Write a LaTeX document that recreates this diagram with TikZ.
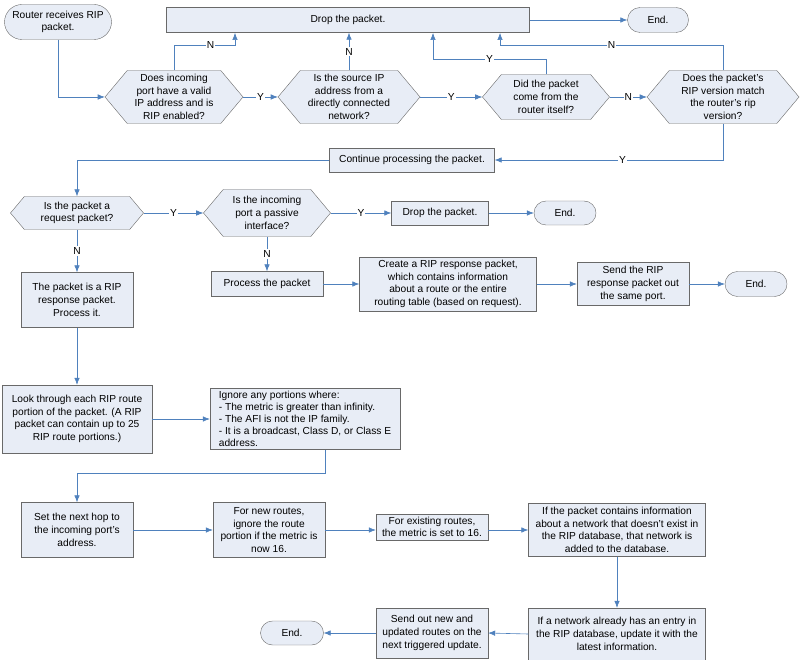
\documentclass[tikz,border=0pt]{standalone}
\usepackage{fontspec}
\setmainfont{Liberation Sans}
\usetikzlibrary{shapes.misc,shapes.symbols,arrows.meta}

\definecolor{boxfill}{RGB}{232,237,246}
\definecolor{boxline}{RGB}{105,105,105}
\definecolor{flow}{RGB}{79,129,189}

\tikzstyle{base}=[draw=boxline, fill=boxfill, align=center, inner sep=1pt, font=\fontsize{10.2}{12.7}\selectfont]
\tikzstyle{term}=[base, rounded rectangle]
\tikzstyle{proc}=[base, rectangle]
\tikzstyle{test}=[base, signal, signal to=west and east, signal pointer angle=100]
\tikzstyle{arrow}=[flow, line width=0.6pt, -{Latex[length=7pt, width=5.5pt]}]
\tikzstyle{yn}=[fill=white, text=black, inner sep=1pt, font=\fontsize{10.2}{11}\selectfont]

\begin{document}
\begin{tikzpicture}[x=1pt, y=-1pt]
    \useasboundingbox (0,0) rectangle (800,660);

    % top row
    \node[term, minimum width=109, minimum height=35] (start) at (58, 22) {Router receives RIP\\packet.};
    \node[proc, minimum width=363, minimum height=25] (drop1) at (348, 20) {Drop the packet.};
    \node[term, minimum width=63, minimum height=25] (end1) at (658, 20) {End.};
    \node[test, minimum width=138, minimum height=53] (d1) at (174, 97) {Does incoming\\port have a valid\\IP address and is\\RIP enabled?};
    \node[test, minimum width=142, minimum height=53] (d2) at (349, 97) {Is the source IP\\address from a\\directly connected\\network?};
    \node[test, minimum width=127, minimum height=45] (d3) at (546, 97) {Did the packet\\come from the\\router itself?};
    \node[test, minimum width=152, minimum height=53] (d4) at (723, 97) {Does the packet’s\\RIP version match\\the router’s rip\\version?};
    \node[proc, minimum width=165, minimum height=24] (cont) at (412, 160) {Continue processing the packet.};

    \coordinate (dropA) at (235, 33);
    \coordinate (dropB) at (433, 33);
    \coordinate (dropC) at (500, 33);

    \draw[arrow] (start.south) |- (d1.west);
    \draw[arrow] (d1.east) -- node[yn] (y1) {Y} (d2.west);
    \draw[arrow] (d2.east) -- node[yn] (y2) {Y} (d3.west);
    \draw[arrow] (d3.east) -- node[yn] (n3) {N} (d4.west);
    \draw[arrow] (d1.north) -- ++(0,-25) -| node[yn, pos=0.3] (n1) {N} (dropA);
    \draw[arrow] (d2.north) -- node[yn] (n2) {N} (drop1.south -| d2.north);
    \draw[arrow] (d3.north) -- ++(0,-15) -| node[yn, pos=0.25] (y3) {Y} (dropB);
    \draw[arrow] (d4.north) -- ++(0,-25) -| node[yn, pos=0.25] (n4) {N} (dropC);
    \draw[arrow] (drop1.east) -- (end1.west);
    \draw[arrow] (d4.south) |- node[yn, pos=0.72] (y4) {Y} (cont.east);

    % request branch
    \node[test, minimum width=133, minimum height=33] (d5) at (77, 213) {Is the packet a\\request packet?};
    \node[test, minimum width=127, minimum height=47] (d6) at (267, 213) {Is the incoming\\port a passive\\interface?};
    \node[proc, minimum width=97, minimum height=24] (drop2) at (440, 213) {Drop the packet.};
    \node[term, minimum width=64, minimum height=24] (end2) at (565, 213) {End.};
    \node[proc, minimum width=112, minimum height=55] (resp) at (77, 300) {The packet is a RIP\\response packet.\\Process it.};
    \node[proc, minimum width=112, minimum height=25] (proc1) at (267, 284) {Process the packet};
    \node[proc, minimum width=177, minimum height=54] (create) at (448, 284) {Create a RIP response packet,\\which contains information\\about a route or the entire\\routing table (based on request).};
    \node[proc, minimum width=112, minimum height=43] (send) at (633, 284) {Send the RIP\\response packet out\\the same port.};
    \node[term, minimum width=64, minimum height=25] (end3) at (756, 284) {End.};

    \draw[arrow] (cont.west) -| (d5.north);
    \draw[arrow] (d5.east) -- node[yn] (y5) {Y} (d6.west);
    \draw[arrow] (d6.east) -- node[yn] (y6) {Y} (drop2.west);
    \draw[arrow] (drop2.east) -- (end2.west);
    \draw[arrow] (d5.south) -- node[yn] (n5) {N} (resp.north);
    \draw[arrow] (d6.south) -- node[yn] (n6) {N} (proc1.north);
    \draw[arrow] (proc1.east) -- (create.west);
    \draw[arrow] (create.east) -- (send.west);
    \draw[arrow] (send.east) -- (end3.west);

    % response branch
    \node[proc, minimum width=150, minimum height=68] (look) at (77, 419) {Look through each RIP route\\portion of the packet. (A RIP\\packet can contain up to 25\\RIP route portions.)};
    \node[proc, minimum width=190, minimum height=61, align=left, inner sep=2pt, font=\fontsize{10.2}{12}\selectfont] (ignore) at (305, 419) {Ignore any portions where:\\- The metric is greater than infinity.\\- The AFI is not the IP family.\\- It is a broadcast, Class D, or Class E\\address.};
    \node[proc, minimum width=112, minimum height=55] (nexthop) at (77, 530) {Set the next hop to\\the incoming port’s\\address.};
    \node[proc, minimum width=112, minimum height=55] (newrt) at (269, 530) {For new routes,\\ignore the route\\portion if the metric is\\now 16.};
    \node[proc, minimum width=112, minimum height=26] (oldrt) at (432, 527) {For existing routes,\\the metric is set to 16.};
    \node[proc, minimum width=177, minimum height=53] (addnet) at (617, 530) {If the packet contains information\\about a network that doesn’t exist in\\the RIP database, that network is\\added to the database.};
    \node[proc, minimum width=177, minimum height=52] (update) at (617, 634) {If a network already has an entry in\\the RIP database, update it with the\\latest information.};
    \node[proc, minimum width=112, minimum height=50] (sendout) at (432, 633) {Send out new and\\updated routes on the\\next triggered update.};
    \node[term, minimum width=65, minimum height=24] (end4) at (292, 633) {End.};

    \draw[arrow] (resp.south) -- (look.north);
    \draw[arrow] (look.east) -- (ignore.west);
    \draw[arrow] ([xshift=20pt]ignore.south) -- ++(0,24) -| (nexthop.north);
    \draw[arrow] (nexthop.east) -- (newrt.west);
    \draw[arrow] (newrt.east) -- (oldrt.west |- newrt.east);
    \draw[arrow] (oldrt.east |- addnet.west) -- (addnet.west);
    \draw[arrow] (addnet.south) -- (update.north);
    \draw[arrow] (update.west) -- (sendout.east);
    \draw[arrow] (sendout.west) -- (end4.east);
  \end{tikzpicture}
\end{document}
